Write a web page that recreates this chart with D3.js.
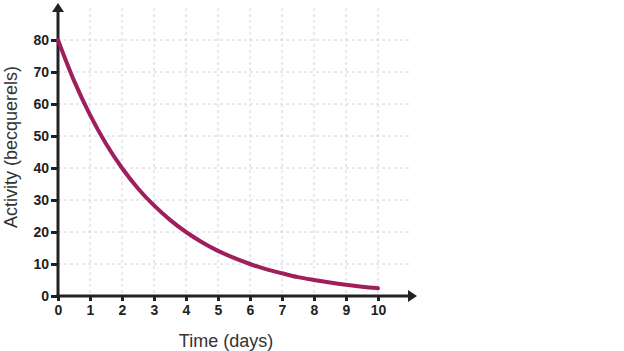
<!DOCTYPE html>
<html>
<head>
<meta charset="utf-8">
<script src="https://cdn.jsdelivr.net/npm/d3@7"></script>
<style>
  body { margin: 0; background: #fff; }
  svg { display: block; font-family: "Liberation Sans", Arial, sans-serif; }
</style>
</head>
<body>
<svg id="chart"></svg>
<script>
// values (half-life looks like 2 days)
var days = [0, 0.5, 1, 1.5, 2, 2.5, 3, 3.5, 4, 4.5, 5, 5.5, 6, 6.5, 7, 7.5, 8, 8.5, 9, 9.5, 10];
var activity = [80, 67.3, 56.6, 47.6, 40, 33.6, 28.3, 23.8, 20, 16.8, 14.1, 11.9, 10, 8.4, 7.1, 5.9, 5, 4.2, 3.5, 2.9, 2.4];
var xTicks = [0, 1, 2, 3, 4, 5, 6, 7, 8, 9, 10];
var yTicks = [0, 10, 20, 30, 40, 50, 60, 70, 80];

var width = 624, height = 351;
var colorCurve = "#9e1f5c";
var colorAxis = "#222222";
var colorGrid = "#d4d0e2";

var svg = d3.select('svg#chart')
    .attr('width', width)
    .attr('height', height);

var x = d3.scaleLinear().domain([0, 11]).range([58, 410]);
var y = d3.scaleLinear().domain([0, 90]).range([296, 8]);

// grid
svg.append('g').selectAll('line.vgrid')
    .data(xTicks.slice(1))
    .enter().append('line')
    .attr('x1', d => x(d)).attr('x2', d => x(d))
    .attr('y1', y(90)).attr('y2', y(0))
    .attr('stroke', colorGrid)
    .attr('stroke-width', 1)
    .attr('stroke-dasharray', '3,3');

svg.append('g').selectAll('line.hgrid')
    .data(yTicks.slice(1))
    .enter().append('line')
    .attr('x1', x(0)).attr('x2', x(11))
    .attr('y1', d => y(d)).attr('y2', d => y(d))
    .attr('stroke', colorGrid)
    .attr('stroke-width', 1)
    .attr('stroke-dasharray', '3,3');

// axes
var xAxis = d3.axisBottom(x).tickValues(xTicks).tickSize(5).tickPadding(4);
var gx = svg.append('g').attr('transform', 'translate(0,' + y(0) + ')').call(xAxis);
gx.select('.domain').remove();
gx.selectAll('.tick line').attr('stroke', colorAxis).attr('stroke-width', 3);
gx.selectAll('.tick text')
    .attr('fill', colorAxis)
    .style('font-size', '14px')
    .style('font-weight', 'bold')
    .style('font-family', '"Liberation Sans", Arial, sans-serif');

var yAxis = d3.axisLeft(y).tickValues(yTicks).tickSize(7).tickPadding(2);
var gy = svg.append('g').attr('transform', 'translate(' + x(0) + ',0)').call(yAxis);
gy.select('.domain').remove();
gy.selectAll('.tick line').attr('stroke', colorAxis).attr('stroke-width', 3);
gy.selectAll('.tick text')
    .attr('fill', colorAxis)
    .style('font-size', '14px')
    .style('font-weight', 'bold')
    .style('font-family', '"Liberation Sans", Arial, sans-serif');

// axis lines with arrow heads
svg.append('line')
    .attr('x1', x(0) - 1.5).attr('x2', 410)
    .attr('y1', y(0)).attr('y2', y(0))
    .attr('stroke', colorAxis).attr('stroke-width', 3);
svg.append('path')
    .attr('d', 'M408,' + (y(0) - 6) + ' L417,' + y(0) + ' L408,' + (y(0) + 6) + ' Z')
    .attr('fill', colorAxis);

svg.append('line')
    .attr('x1', x(0)).attr('x2', x(0))
    .attr('y1', y(0) + 1.5).attr('y2', 10)
    .attr('stroke', colorAxis).attr('stroke-width', 3);
svg.append('path')
    .attr('d', 'M' + (x(0) - 6) + ',12 L' + x(0) + ',3 L' + (x(0) + 6) + ',12 Z')
    .attr('fill', colorAxis);

// decay curve
var line = d3.line()
    .x((d, i) => x(days[i]))
    .y(d => y(d))
    .curve(d3.curveCatmullRom);

svg.append('path')
    .datum(activity)
    .attr('d', line)
    .attr('fill', 'none')
    .attr('stroke', colorCurve)
    .attr('stroke-width', 4)
    .attr('stroke-linecap', 'round');

// labels
svg.append('text')
    .attr('x', 226).attr('y', 347)
    .attr('text-anchor', 'middle')
    .attr('fill', '#333')
    .style('font-size', '18px')
    .text('Time (days)');

svg.append('text')
    .attr('transform', 'translate(17,147) rotate(-90)')
    .attr('text-anchor', 'middle')
    .attr('fill', '#333')
    .style('font-size', '18px')
    .text('Activity (becquerels)');
</script>
</body>
</html>
